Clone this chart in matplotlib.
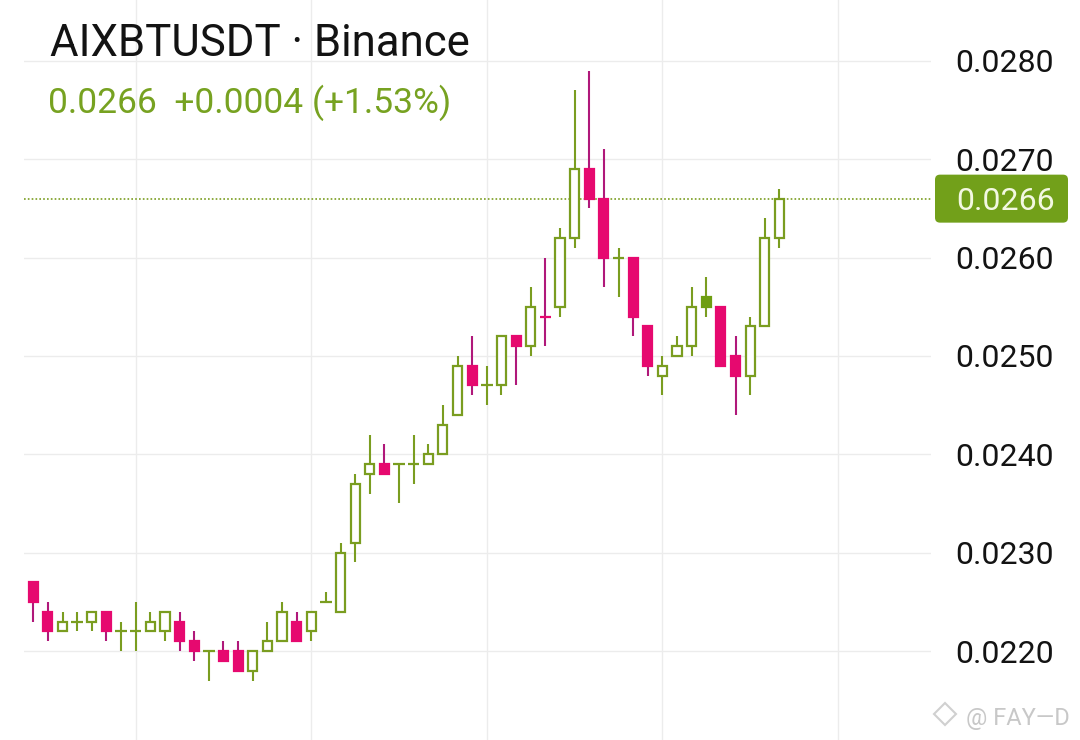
import matplotlib
matplotlib.use("Agg")
import matplotlib.pyplot as plt
from matplotlib.patches import FancyBboxPatch
from matplotlib.transforms import IdentityTransform
from matplotlib.lines import Line2D

plt.rcParams['font.family'] = ['Roboto', 'DejaVu Sans']

# ---- data (price in USDT) ----
symbol = "AIXBTUSDT"
exchange = "Binance"
opens = [0.0227, 0.0224, 0.0222, 0.0223, 0.0223, 0.0224, 0.0222, 0.0222, 0.0222, 0.0222,
         0.0223, 0.0221, 0.0220, 0.0220, 0.0220, 0.0218, 0.0220, 0.0221, 0.0223, 0.0222,
         0.0225, 0.0224, 0.0231, 0.0238, 0.0239, 0.0239, 0.0239, 0.0239, 0.0240, 0.0244,
         0.0249, 0.0247, 0.0247, 0.0252, 0.0251, 0.0254, 0.0255, 0.0262, 0.0269, 0.0266,
         0.0260, 0.0260, 0.0253, 0.0248, 0.0250, 0.0251, 0.0256, 0.0255, 0.0250, 0.0248,
         0.0253, 0.0262]
highs = [0.0227, 0.0225, 0.0224, 0.0224, 0.0224, 0.0224, 0.0223, 0.0225, 0.0224, 0.0224,
         0.0224, 0.0222, 0.0220, 0.0221, 0.0221, 0.0220, 0.0223, 0.0225, 0.0224, 0.0224,
         0.0226, 0.0231, 0.0238, 0.0242, 0.0241, 0.0239, 0.0242, 0.0241, 0.0245, 0.0250,
         0.0252, 0.0249, 0.0252, 0.0252, 0.0257, 0.0260, 0.0263, 0.0277, 0.0279, 0.0271,
         0.0261, 0.0260, 0.0253, 0.0250, 0.0252, 0.0257, 0.0258, 0.0255, 0.0252, 0.0254,
         0.0264, 0.0267]
lows = [0.0223, 0.0221, 0.0222, 0.0222, 0.0222, 0.0221, 0.0220, 0.0220, 0.0222, 0.0221,
        0.0220, 0.0219, 0.0217, 0.0219, 0.0218, 0.0217, 0.0220, 0.0221, 0.0221, 0.0221,
        0.0225, 0.0224, 0.0229, 0.0236, 0.0238, 0.0235, 0.0237, 0.0239, 0.0240, 0.0244,
        0.0246, 0.0245, 0.0246, 0.0247, 0.0250, 0.0251, 0.0254, 0.0261, 0.0265, 0.0257,
        0.0256, 0.0252, 0.0248, 0.0246, 0.0250, 0.0250, 0.0254, 0.0249, 0.0244, 0.0246,
        0.0253, 0.0261]
closes = [0.0225, 0.0222, 0.0223, 0.0223, 0.0224, 0.0222, 0.0222, 0.0222, 0.0223, 0.0224,
          0.0221, 0.0220, 0.0220, 0.0219, 0.0218, 0.0220, 0.0221, 0.0224, 0.0221, 0.0224,
          0.0225, 0.0230, 0.0237, 0.0239, 0.0238, 0.0239, 0.0239, 0.0240, 0.0243, 0.0249,
          0.0247, 0.0247, 0.0252, 0.0251, 0.0255, 0.0254, 0.0262, 0.0269, 0.0266, 0.0260,
          0.0260, 0.0254, 0.0249, 0.0249, 0.0251, 0.0255, 0.0255, 0.0249, 0.0248, 0.0253,
          0.0262, 0.0266]
yticks = [0.0220, 0.0230, 0.0240, 0.0250, 0.0260, 0.0270, 0.0280]
time_grid = [7, 19, 31, 43, 55]
watermark = "@ FAY\u2014D"

GREEN = "#7a9d20"
GREEN_FILL = "#6e9e12"
PINK = "#e6096f"
PINK_WICK = "#b0187a"
TEXT = "#131313"
GRID = "#ececec"

W, H = 1080, 740
fig = plt.figure(figsize=(W / 100, H / 100), dpi=100)
ax = fig.add_axes([24 / W, 0, (931 - 24) / W, 1])
ax.set_xlim(-0.636, 61.36)
ax.set_ylim(0.021095, 0.028620)

for s in ax.spines.values():
    s.set_visible(False)
ax.set_xticks([])

# grid
for v in yticks:
    ax.axhline(v, color=GRID, lw=1.0, zorder=0)
for t in time_grid:
    ax.axvline(t, color=GRID, lw=1.0, zorder=0)

eps = 1e-9
bw = 0.62
for i, (o, h, l, c) in enumerate(zip(opens, highs, lows, closes)):
    prev = closes[i - 1] if i > 0 else o
    up = c >= prev - eps
    col = GREEN if up else PINK
    wick_col = GREEN if up else PINK_WICK
    top = max(o, c)
    bot = min(o, c)
    if h > top + eps:
        ax.vlines(i, top, h, color=wick_col, lw=1.5, zorder=2)
    if l < bot - eps:
        ax.vlines(i, l, bot, color=wick_col, lw=1.5, zorder=2)
    if abs(c - o) < eps:
        ax.hlines(c, i - (bw / 2 + 0.08), i + (bw / 2 + 0.08), color=col, lw=1.6, zorder=3)
    elif c > o:
        ax.bar(i, c - o, bottom=o, width=bw, facecolor="white", edgecolor=col, lw=1.6, zorder=3)
    else:
        fc = GREEN_FILL if up else PINK
        ax.bar(i, o - c, bottom=c, width=bw, facecolor=fc, edgecolor=fc, lw=1.6, zorder=3)

last = closes[-1]
prev_close = closes[-2]
ax.axhline(last, color=GREEN, lw=1.2, linestyle=(0, (1, 1.3)), zorder=1)

# y axis on right
ax.yaxis.tick_right()
ax.set_yticks(yticks)
ax.set_yticklabels([f"{v:.4f}" for v in yticks])
ax.tick_params(axis='y', length=0, pad=17.5, labelsize=23, labelcolor=TEXT)

# last price label
fig.canvas.draw()
ypix = ax.transData.transform((0, last))[1]
box = FancyBboxPatch((935, ypix - 24), 133, 48, boxstyle="round,pad=0,rounding_size=5",
                     transform=IdentityTransform(), fc="#72a01a", ec="none", zorder=5)
fig.add_artist(box)
fig.text(956 / W, ypix / H, f"{last:.4f}", va="center_baseline", ha="left", fontsize=23,
         color="#f3f8e2", zorder=6)

# header
fig.text(50 / W, 1 - 56 / H, f"{symbol} \u00b7 {exchange}", fontsize=31.5, color=TEXT, va="baseline")
chg = last - prev_close
pct = chg / prev_close * 100
fig.text(48 / W, 1 - 113 / H, f"{last:.4f}  {chg:+.4f} ({pct:+.2f}%)", fontsize=25.5,
         color="#77a221", va="baseline")

# watermark
fig.text(966 / W, 1 - 725 / H, watermark, fontsize=17, color="#c8c8c8", va="baseline")
fig.add_artist(Line2D([945 / W], [1 - 714 / H], transform=fig.transFigure, marker="D",
                      markersize=11, markerfacecolor="none", markeredgecolor="#d0d0d0", mew=1.5))

fig.savefig("out.png", dpi=100)
